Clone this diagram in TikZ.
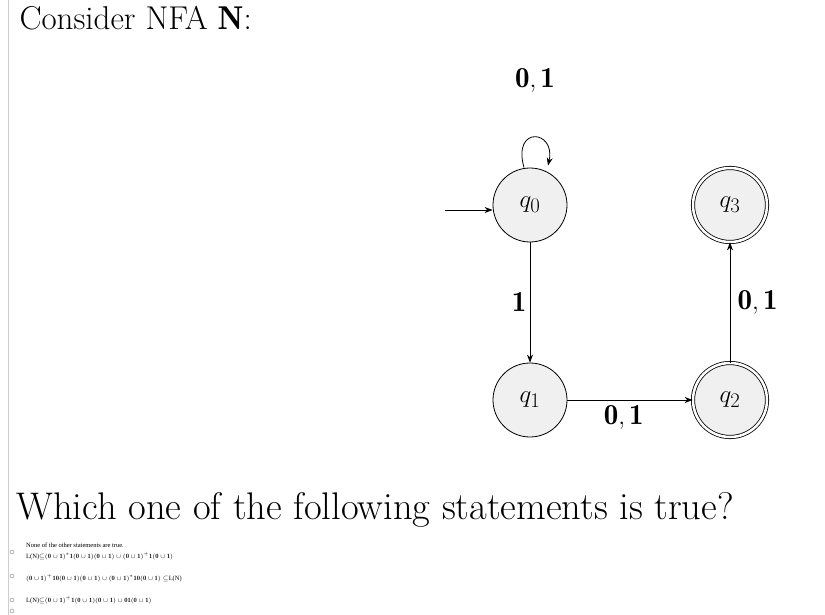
\documentclass[tikz,border=0pt]{standalone}
\usepackage{fontspec}
\usepackage{amssymb}
\newfontfamily\optfont{Liberation Serif}
\usetikzlibrary{arrows.meta}
\begin{document}
\begin{tikzpicture}[x=1pt,y=-1pt,
 st/.style={circle,draw,fill=gray!12,minimum size=74pt,inner sep=0pt,font=\fontsize{28}{28}\selectfont,line width=0.8pt},
 acc/.style={st,double,double distance=2.5pt},
 lbl/.style={font=\fontsize{29}{29}\selectfont\bfseries},
 ed/.style={-{Stealth[length=8pt]},line width=0.8pt},
 opt/.style={anchor=west,font=\fontsize{6.5}{7}\selectfont\optfont,inner sep=0pt},
 bul/.style={circle,draw=gray,inner sep=0pt,minimum size=4pt}]
\useasboundingbox (0,0) rectangle (825,615);
\draw[gray!40] (8,0) -- (8,615);
\node[anchor=west,font=\fontsize{33}{33}\selectfont] (t) at (16,18) {Consider NFA $\mathbf{N}$:};
\node[st] (q0) at (530,205) {$q_0$};
\node[st] (q1) at (530,400) {$q_1$};
\node[acc] (q2) at (730,400) {$q_2$};
\node[acc] (q3) at (730,205) {$q_3$};
\coordinate (s) at (445,210);
\draw[ed] (s) -- (q0.west|-s);
\draw[ed] ([xshift=-6pt]q0.north) .. controls (512,125) and (556,130) .. ([xshift=18pt,yshift=2pt]q0.north);
\node[lbl] (l0) at (535,80) {$\mathbf{0,1}$};
\draw[ed] (q0) -- (q1) node[midway,left,lbl] {$\mathbf{1}$};
\draw[ed] (q1) -- (q2) node[pos=0.45,below=2pt,lbl] {$\mathbf{0,1}$};
\draw[ed] (q2) -- (q3) node[midway,right=4pt,lbl] {$\mathbf{0,1}$};
\node[anchor=west,font=\fontsize{38.5}{38.5}\selectfont] (w) at (13,510) {Which one of the following statements is true?};
\foreach \y in {552,576,600,611} \node[bul] at (12,\y) {};
\node[opt] (o1) at (26,545) {None of the other statements are true.};
\node[opt] (o2) at (26,556) {L(N)$\subseteq$$(\mathbf{0}\cup\mathbf{1})^{*}\mathbf{1}(\mathbf{0}\cup\mathbf{1})(\mathbf{0}\cup\mathbf{1})\cup(\mathbf{0}\cup\mathbf{1})^{+}\mathbf{1}(\mathbf{0}\cup\mathbf{1})$};
\node[opt] (o3) at (26,578) {$(\mathbf{0}\cup\mathbf{1})^{+}\mathbf{10}(\mathbf{0}\cup\mathbf{1})(\mathbf{0}\cup\mathbf{1})\cup(\mathbf{0}\cup\mathbf{1})^{*}\mathbf{10}(\mathbf{0}\cup\mathbf{1})\subseteq$L(N)};
\node[opt] (o4) at (26,600) {L(N)$\subseteq$$(\mathbf{0}\cup\mathbf{1})^{+}\mathbf{1}(\mathbf{0}\cup\mathbf{1})(\mathbf{0}\cup\mathbf{1})\cup\mathbf{01}(\mathbf{0}\cup\mathbf{1})$};
\end{tikzpicture}
\end{document}
